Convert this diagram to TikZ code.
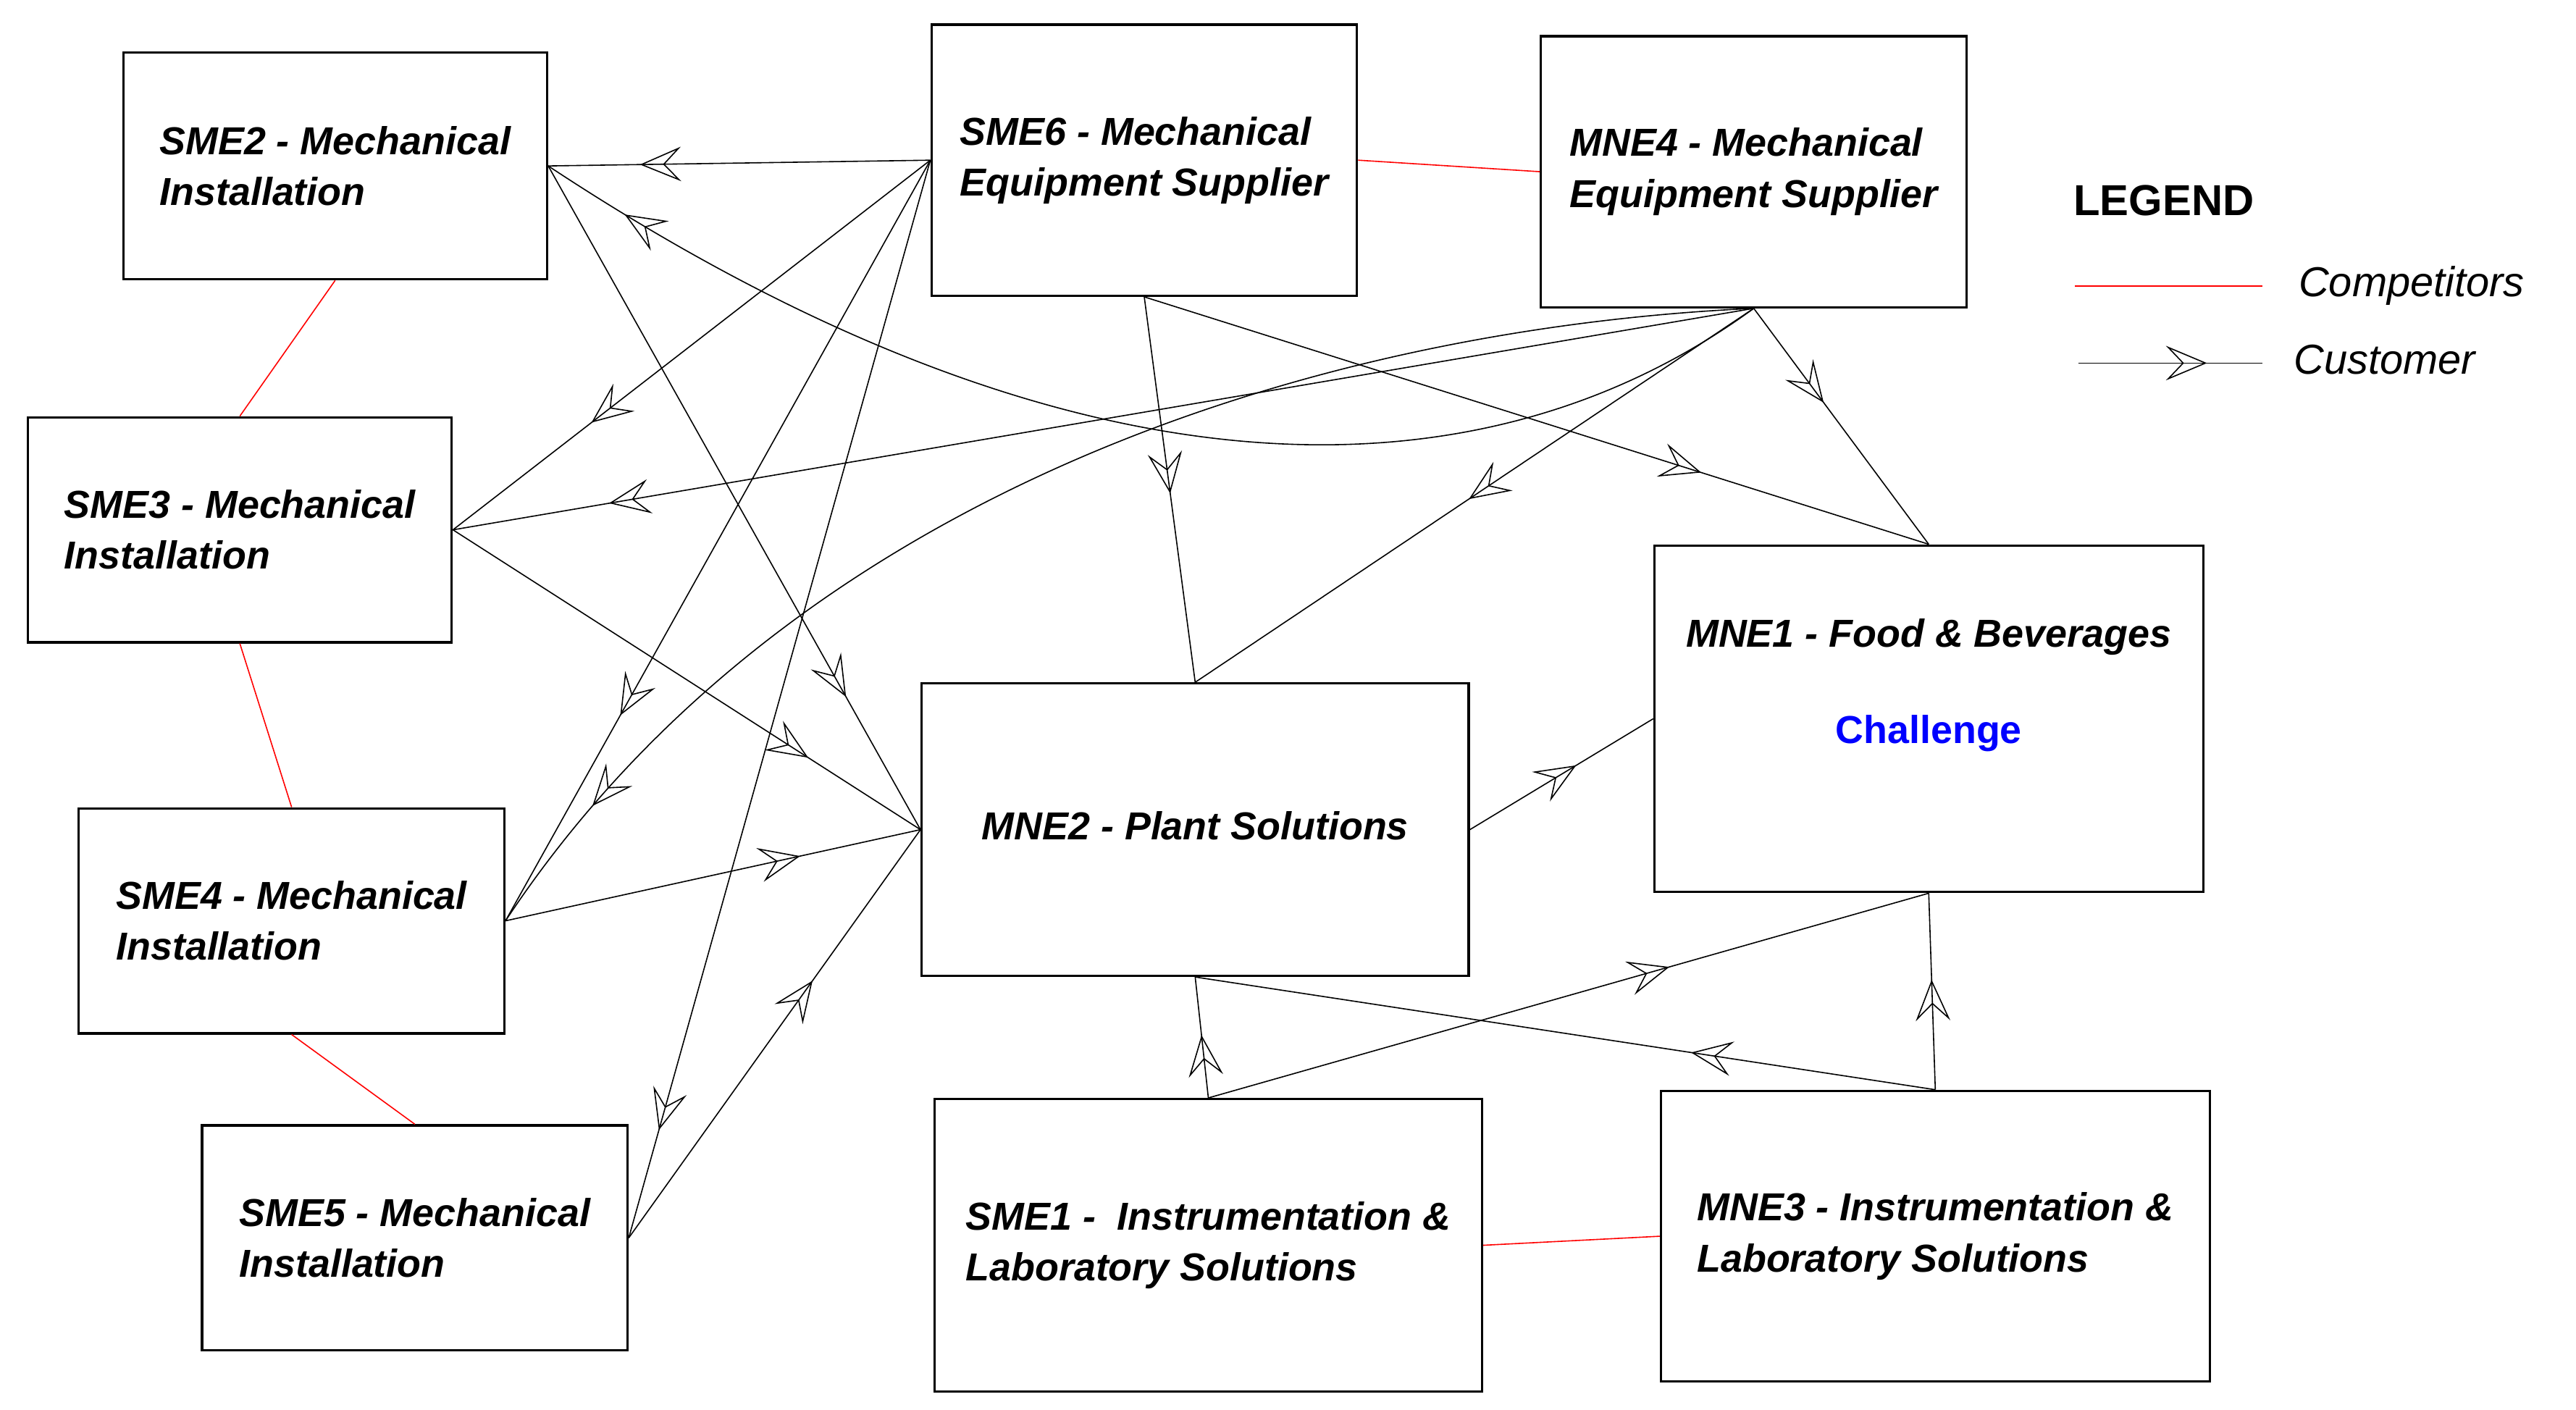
\documentclass[tikz,border=0pt]{standalone}
\usepackage{fontspec}
\setmainfont{Liberation Sans}
\usetikzlibrary{arrows.meta,decorations.markings}
\tikzset{
  box/.style 2 args={draw, thick, minimum width=#1, minimum height=#2, align=left,
    font=\fontsize{13.5}{17.6}\selectfont\bfseries\itshape},
  cust/.style={decoration={markings, mark=at position #1 with
    {\arrow{Stealth[open,length=5mm,width=4.2mm,inset=2mm]}}}, postaction={decorate}},
  comp/.style={red}
}
\begin{document}
\begin{tikzpicture}[x=0.2mm,y=-0.2mm]
	\useasboundingbox (0,0) rectangle (1568,858);

	\node[box={51.6mm}{27.6mm}] (sme2) at (204,101) {SME2 - Mechanical\\Installation};
	\node[box={51.6mm}{27.4mm}] (sme3) at (146,322.5) {SME3 - Mechanical\\Installation};
	\node[box={51.8mm}{27.4mm}] (sme4) at (177.5,560.5) {SME4 - Mechanical\\Installation};
	\node[box={51.8mm}{27.4mm}] (sme5) at (252.5,753.5) {SME5 - Mechanical\\Installation};
	\node[box={51.8mm}{33mm}] (sme6) at (696.5,97.5) {SME6 - Mechanical\\Equipment Supplier};
	\node[box={51.8mm}{33mm}] (mne4) at (1067.5,104.5) {MNE4 - Mechanical\\Equipment Supplier};
	\node[box={66.6mm}{35.6mm}] (mne2) at (727.5,505) {MNE2 - Plant Solutions\vphantom{g}};
	\node[box={66.8mm}{42.2mm}, align=center] (mne1) at (1174,437.5)
		{MNE1 - Food \& Beverages\\[5.5mm]{\upshape\color{blue}Challenge}\\[3mm]};
	\node[box={66.6mm}{35.6mm}] (sme1) at (735.5,758) {SME1 -\ \ Instrumentation \&\\Laboratory Solutions};
	\node[box={66.8mm}{35.4mm}] (mne3) at (1178,752.5) {MNE3 - Instrumentation \&\\Laboratory Solutions};

	% competitors
	\draw[comp] (sme6.east) -- (mne4.west);
	\draw[comp] (sme2.south) -- (sme3.north);
	\draw[comp] (sme3.south) -- (sme4.north);
	\draw[comp] (sme4.south) -- (sme5.north);
	\draw[comp] (sme1.east) -- (mne3.west);

	% customers
	\draw[cust=0.76] (sme6.west) -- (sme2.east);
	\draw[cust=0.71] (sme6.west) -- (sme3.east);
	\draw[cust=0.73] (sme6.west) -- (sme4.east);
	\draw[cust=0.9] (sme6.west) -- (sme5.east);
	\draw[cust=0.51] (sme6.south) -- (mne2.north);
	\draw[cust=0.71] (sme6.south) -- (mne1.north);
	\draw[cust=0.88] (mne4.south) -- (sme3.east);
	\draw[cust=0.51] (mne4.south) -- (mne2.north);
	\draw[cust=0.4] (mne4.south) -- (mne1.north);
	\draw[cust=0.93] (mne4.south) .. controls (900,310) and (650,310) .. (sme2.east);
	\draw[cust=0.9] (mne4.south) .. controls (800,200) and (480,300) .. (sme4.east);
	\draw[cust=0.8] (sme2.east) -- (mne2.west);
	\draw[cust=0.76] (sme3.east) -- (mne2.west);
	\draw[cust=0.71] (sme4.east) -- (mne2.west);
	\draw[cust=0.63] (sme5.east) -- (mne2.west);
	\draw[cust=0.58] (mne2.east) -- (mne1.west);
	\draw[cust=0.52] (sme1.north) -- (mne2.south);
	\draw[cust=0.64] (sme1.north) -- (mne1.south);
	\draw[cust=0.33] (mne3.north) -- (mne2.south);
	\draw[cust=0.56] (mne3.north) -- (mne1.south);

	% legend
	\node[anchor=west, font=\fontsize{15}{18}\selectfont\bfseries] (leg) at (1256,122) {LEGEND};
	\coordinate (c1) at (1263,174);
	\coordinate (c2) at (1377,174);
	\draw[comp] (c1) -- (c2);
	\node[anchor=west, font=\fontsize{14.5}{17}\selectfont\itshape] (lcomp) at (1393,174) {Competitors};
	\coordinate (k1) at (1265,221);
	\coordinate (k2) at (1377,221);
	\draw[cust=0.7] (k1) -- (k2);
	\node[anchor=west, font=\fontsize{14.5}{17}\selectfont\itshape] (lcust) at (1390,219) {Customer};
\end{tikzpicture}
\end{document}
